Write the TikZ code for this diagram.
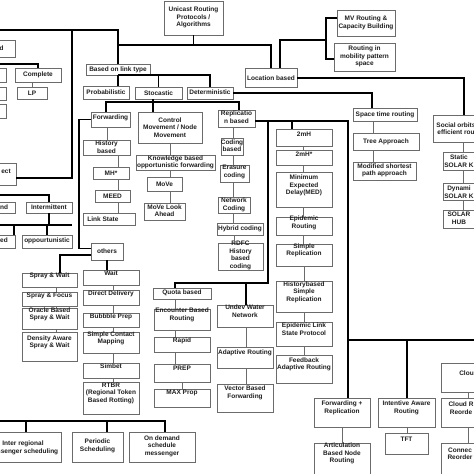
\documentclass[tikz,border=0pt]{standalone}
\usepackage{fontspec}
\setmainfont{Liberation Sans}
\usetikzlibrary{calc}
\definecolor{boxgray}{gray}{0.42}
\definecolor{txtc}{gray}{0.12}
\tikzset{
  bx/.style={draw=boxgray, line width=0.85pt, fill=white, inner sep=0pt, outer sep=0pt},
  tx/.style={inner sep=0pt, outer sep=0pt, align=center, text=txtc, font={\fontsize{6.5}{7.5}\selectfont\bfseries}},
  thk/.style={line width=1.9pt, black},
  thn/.style={line width=0.8pt, boxgray},
}
\newcommand{\mkbox}[7]{%
  \node[bx, minimum width={(#4-#2)*1pt}, minimum height={(#5-#3)*1pt}] (#1) at ({(#2+#4)/2},{(#3+#5)/2}) {};
  \node[tx] (#1-t) at ({(#2+#4)/2},#6) {#7};}
\newcommand{\mkboxx}[8]{%
  \node[bx, minimum width={(#4-#2)*1pt}, minimum height={(#5-#3)*1pt}] (#1) at ({(#2+#4)/2},{(#3+#5)/2}) {};
  \node[tx] (#1-t) at (#6,#7) {#8};}
\newcommand{\vcon}[3]{\draw[thn] let \p1=(#2.south), \p2=(#3.north) in (#1pt,\y1) -- (#1pt,\y2);}
\begin{document}
\begin{tikzpicture}[x=1pt,y=-1pt]
\useasboundingbox (0,0) rectangle (474,474);
\fill[white] (0,0) rectangle (474,474);
\clip (0,0) rectangle (474,474);
% ---------- boxes ----------
\mkbox{uni}{164}{1}{223}{35}{17.5}{Unicast Routing\\Protocols /\\Algorithms}
\mkbox{mv}{337}{10}{395}{36}{23}{MV Routing \&\\Capacity Building}
\mkbox{rim}{334}{43}{395}{71}{56.8}{Routing in\\mobility pattern\\space}
\mkbox{blink}{86}{64}{150}{75}{69.5}{Based on link type}
\mkbox{loc}{245}{68}{297}{87}{78}{Location based}
\mkbox{comp}{15}{68}{61}{82}{75}{Complete}
\mkbox{lp}{17}{87}{47}{99}{93}{LP}
\mkboxx{dbox}{-11}{40}{15}{57}{1.5}{48.5}{d}
\mkbox{ea}{-20}{68}{6}{82}{75}{}
\mkbox{eb}{-20}{87}{6}{100}{93}{}
\mkbox{ec}{-20}{104}{6}{118}{111}{}
\mkbox{prob}{83}{86}{129}{99}{92.5}{Probabilistic}
\mkbox{stoc}{135}{87}{182}{99}{93}{Stocastic}
\mkbox{det}{187}{87}{233}{99}{92.5}{Deterministic}
\mkbox{fwd}{91}{112}{130}{127}{118}{Forwarding}
\mkbox{ctrl}{138}{112}{202}{143}{127.5}{Control\\Movement / Node\\Movement}
\mkbox{rep}{218}{110}{255}{127}{117}{Replicatio\\n based}
\mkbox{hist}{83}{140}{130}{155}{147}{History\\based}
\mkbox{mh}{93}{167}{129}{179}{173}{MH*}
\mkbox{meed}{95}{190}{130}{202}{196}{MEED}
\mkboxx{link}{83}{213}{135}{225}{103}{219}{Link State}
\mkbox{know}{136}{155}{215}{170}{162.5}{Knowledge based\\opportunistic forwarding}
\mkbox{move}{147}{177}{182}{191}{184}{MoVe}
\mkbox{look}{144}{203}{185}{220}{210.5}{MoVe Look\\Ahead}
\mkbox{coding}{221}{138}{243}{155}{145.5}{Coding\\based}
\mkbox{erasure}{220}{165}{249}{182}{172}{Erasure\\coding}
\mkbox{netcode}{218}{197}{250}{213}{205}{Network\\Coding}
\mkbox{hybrid}{217}{223}{263}{235}{229}{Hybrid coding}
\mkbox{rdfc}{218}{243}{263}{270}{255.5}{RDFC\\History\\based\\coding}
\mkbox{mh2}{276}{129}{332}{146}{134}{2mH}
\mkbox{mh2s}{276}{150}{332}{165}{154}{2mH*}
\mkbox{med}{276}{172}{332}{207}{185.7}{Minimum\\Expected\\Delay(MED)}
\mkbox{epid}{276}{217}{332}{235}{223}{Epidemic\\Routing}
\mkbox{simprep}{276}{244}{332}{266}{250.5}{Simple\\Replication}
\mkbox{histsimp}{276}{281}{332}{312}{292}{Historybased\\Simple\\Replication}
\mkbox{epls}{276}{322}{332}{346}{329}{Epidemic Link\\State Protocol}
\mkbox{feedback}{276}{355}{332}{383}{364.5}{Feedback\\Adaptive Routing}
\mkbox{quota}{153}{288}{211}{299}{293}{Quota based}
\mkbox{encounter}{154}{309}{210}{330}{315}{Encounter Based\\Routing}
\mkbox{rapid}{154}{337}{210}{352}{341}{Rapid}
\mkbox{prep}{154}{364}{210}{382}{368}{PREP}
\mkbox{maxprop}{154}{389}{210}{407}{393}{MAX Prop}
\mkbox{undev}{217}{305}{273}{327}{311}{Undev Water\\Network}
\mkbox{adaptive}{217}{347}{273}{368}{353}{Adaptive Routing}
\mkbox{vector}{217}{384}{273}{412}{393}{Vector Based\\Forwarding}
\mkbox{others}{91}{243}{123}{260}{251.5}{others}
\mkbox{sw}{22}{273}{77}{287}{275.5}{Spray \& Wait}
\mkbox{sf}{22}{292}{77}{306}{295.5}{Spray \& Focus}
\mkbox{oracle}{22}{308}{77}{329}{314.5}{Oracle Based\\Spray \& Wait}
\mkbox{density}{22}{332}{77}{361}{342.5}{Density Aware\\Spray \& Wait}
\mkbox{wait}{83}{270}{139}{285}{273}{Wait}
\mkbox{dd}{83}{290}{139}{305}{294}{Direct Delivery}
\mkbox{bub}{83}{313}{139}{327}{316.5}{Bubbble Prep}
\mkbox{scm}{83}{332}{139}{353}{338.5}{Simple Contact\\Mapping}
\mkbox{simbet}{83}{363}{139}{378}{366}{Simbet}
\mkbox{rtbr}{83}{382}{139}{414}{393.3}{RTBR\\(Regional Token\\Based Rotting)}
\mkboxx{inter}{-15}{432}{61}{462}{23}{448}{Inter regional\\messenger scheduling}
\mkbox{periodic}{72}{432}{123}{462}{446}{Periodic\\Scheduling}
\mkbox{ondemand}{129}{432}{195}{462}{446}{On demand\\schedule\\messenger}
\mkbox{stime}{353}{108}{417}{121}{115}{Space time routing}
\mkbox{tree}{353}{133}{419}{150}{142}{Tree Approach}
\mkbox{mod}{353}{162}{416}{180}{170.5}{Modified shortest\\path approach}
\mkboxx{social}{433}{115}{500}{142}{456}{128.5}{Social orbits\\efficient rou}
\mkboxx{static}{443}{152}{500}{170}{459}{161}{Static\\SOLAR K}
\mkboxx{dyn}{443}{183}{500}{200}{459}{192}{Dynami\\SOLAR K}
\mkboxx{hub}{443}{210}{500}{228}{459}{218.5}{SOLAR\\HUB}
\mkbox{fwdrep}{314}{398}{370}{427}{408}{Forwarding +\\Replication}
\mkbox{artic}{314}{443}{370}{485}{453.5}{Articulation\\Based Node\\Routing}
\mkbox{intent}{378}{398}{435}{427}{408}{Intentive Aware\\Routing}
\mkbox{tft}{385}{433}{428}{454}{439}{TFT}
\mkboxx{cloud}{441}{363}{500}{392}{466.5}{373}{Clou}
\mkboxx{cloudr}{441}{398}{500}{427}{461}{408}{Cloud R\\Reorde}
\mkboxx{connec}{441}{443}{500}{485}{460}{454}{Connec\\Reorder}
\mkboxx{ect}{-4}{163}{16}{185}{6}{171}{ect}
\mkboxx{nd}{-7}{202}{15}{213}{4}{207.5}{nd}
\mkbox{interm}{26}{202}{72}{213}{207.5}{Intermittent}
\mkboxx{ed}{-7}{235}{15}{248}{4}{240}{ed}
\mkbox{opp}{22}{235}{72}{248}{240.5}{oppourtunistic}
% ---------- junction coordinates ----------
\coordinate (j0) at (-5,30);
\coordinate (j1) at (118,45);
\coordinate (j2) at (72,30);
\coordinate (k0) at (-5,64);
\coordinate (s0) at (106,102);
\coordinate (s1) at (153,102);
\coordinate (s2) at (239,102);
\coordinate (d1) at (372,93);
\coordinate (l1) at (280,40);
\coordinate (l2) at (326,40);
\coordinate (l3) at (464,78);
\coordinate (r1) at (348,121);
\coordinate (r2) at (268,121);
\coordinate (r3) at (268,283);
\coordinate (r4) at (175,283);
\coordinate (r5) at (246,283);
\coordinate (r6) at (292,121);
\coordinate (r7) at (348,340);
\coordinate (r8) at (480,340);
\coordinate (r9) at (407,340);
\coordinate (o1) at (60,255);
\coordinate (i0) at (-5,195);
\coordinate (i1) at (-5,225);
\coordinate (i2) at (72,225);
\coordinate (i3) at (14,225);
\coordinate (i4) at (47,225);
\coordinate (b0) at (-5,421);
\coordinate (b1) at (165,421);
\coordinate (b2) at (26,421);
\coordinate (b3) at (107,421);
% ---------- thick connectors ----------
\draw[thk] (uni.south) |- (j1);
\draw[thk] (j1) -| (loc.north);
\draw[thk] (j0) -| (blink.north);
\draw[thk] (j2) |- ([yshift=-4pt]ect.east);
\draw[thk] (k0) -| (comp.north);
\draw[thk] (blink.south) -- (blink.south |- prob.north);
\draw[thk] (blink.south) -| (stoc.north);
\draw[thk] (blink.south) -| (det.north);
\draw[thk] (stoc.south -| s1) -- (ctrl.north -| s1);
\draw[thk] (fwd.north -| s0) |- (s2) -- (rep.north -| s2);
\draw[thk] (det.east) -- (d1) -- (stime.north -| d1);
\draw[thk] (loc.east |- l3) -- (l3) -- (social.north -| l3);
\draw[thk] (loc.north -| l1) -- (l1) -- (l2);
\draw[thk] ([yshift=5pt]mv.west) -| (l2) |- ([yshift=-2pt]rim.west);
\draw[thk] (rep.east |- r1) -- (r1) -- (fwdrep.north -| r1);
\draw[thk] (r2) -- (r3) -- (r4) -- (quota.north -| r4);
\draw[thk] (r5) -- (undev.north -| r5);
\draw[thk] (r6) -- (mh2.north -| r6);
\draw[thk] (r7) -- (r8);
\draw[thk] (r9) -- (intent.north -| r9);
\draw[thk] (fwd.west) -- ++(-12,0) |- ([yshift=3pt]others.west);
\draw[thk] (others.west |- o1) -- (o1) -- (sw.north -| o1);
\draw[thk] (others.south) -- (wait.north -| others.south);
\draw[thk] (i0) -| (interm.north);
\draw[thk] (interm.south) -- (interm.south |- i1);
\draw[thk] (i1) -- (i2);
\draw[thk] (i3) -- (ed.north -| i3);
\draw[thk] (i4) -- (opp.north -| i4);
\draw[thk] (b0) -- (b1) -- (ondemand.north -| b1);
\draw[thk] (b2) -- (inter.north -| b2);
\draw[thk] (b3) -- (periodic.north -| b3);
% ---------- thin connectors ----------
\vcon{32}{comp}{lp}
\vcon{107}{fwd}{hist}
\vcon{118}{hist}{mh}
\vcon{118}{mh}{meed}
\vcon{118}{meed}{link}
\vcon{170}{ctrl}{know}
\vcon{170}{know}{move}
\vcon{170}{move}{look}
\vcon{233}{rep}{coding}
\vcon{233}{coding}{erasure}
\vcon{233}{erasure}{netcode}
\vcon{233}{netcode}{hybrid}
\vcon{234}{hybrid}{rdfc}
\vcon{303}{mh2}{mh2s}
\vcon{303}{mh2s}{med}
\vcon{303}{med}{epid}
\vcon{303}{epid}{simprep}
\vcon{304}{simprep}{histsimp}
\vcon{304}{histsimp}{epls}
\vcon{304}{epls}{feedback}
\vcon{175}{quota}{encounter}
\vcon{175}{encounter}{rapid}
\vcon{175}{rapid}{prep}
\vcon{182}{prep}{maxprop}
\vcon{246}{undev}{adaptive}
\vcon{246}{adaptive}{vector}
\vcon{56}{sw}{sf}
\vcon{56}{sf}{oracle}
\vcon{56}{oracle}{density}
\vcon{113}{wait}{dd}
\vcon{113}{dd}{bub}
\vcon{113}{bub}{scm}
\vcon{113}{scm}{simbet}
\vcon{113}{simbet}{rtbr}
\vcon{373}{stime}{tree}
\vcon{373}{tree}{mod}
\vcon{463}{social}{static}
\vcon{463}{static}{dyn}
\vcon{463}{dyn}{hub}
\vcon{342}{fwdrep}{artic}
\vcon{407}{intent}{tft}
\vcon{468}{cloud}{cloudr}
\vcon{468}{cloudr}{connec}
\end{tikzpicture}
\end{document}
